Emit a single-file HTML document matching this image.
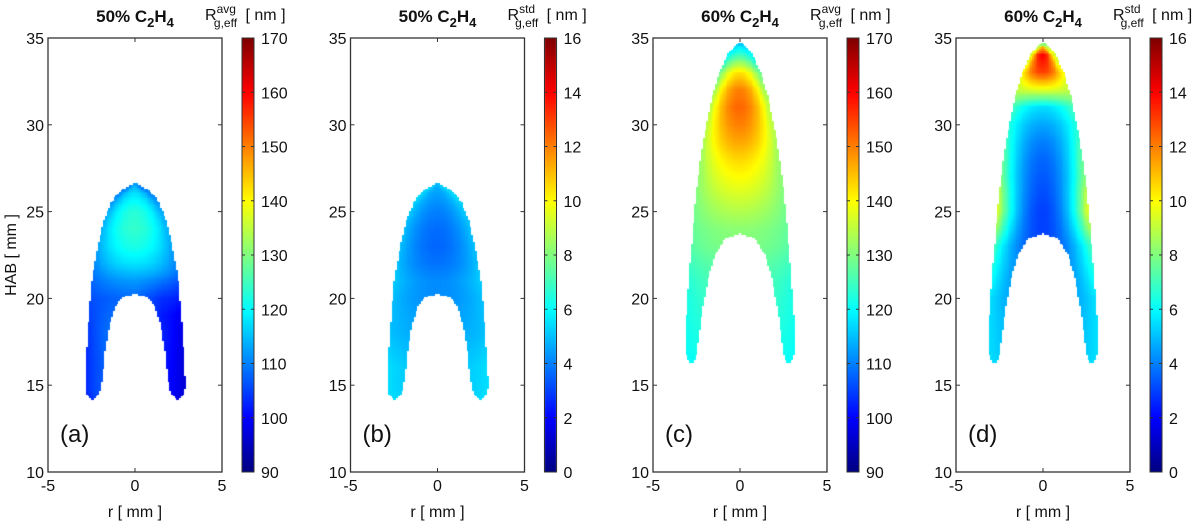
<!DOCTYPE html>
<html><head><meta charset="utf-8">
<style>
body{margin:0;background:#fff;width:1200px;height:528px;overflow:hidden;font-family:"Liberation Sans",Arial,sans-serif}
#c{position:absolute;left:0;top:0}
#s{position:absolute;left:0;top:0}
text{font-family:"Liberation Sans",Arial,sans-serif;fill:#111}
</style></head><body>
<canvas id="c" width="1200" height="528"></canvas>
<svg id="s" width="1200" height="528"></svg>
<script>
// ---- data ----
const panelLabels=["(a)","(b)","(c)","(d)"];
const titles=["50%","50%","60%","60%"];
const cbKinds=["avg","std","avg","std"];
const cbTicksAvg=[90,100,110,120,130,140,150,160,170];
const cbTicksStd=[0,2,4,6,8,10,12,14,16];
const xTicks=[-5,0,5];
const yTicks=[10,15,20,25,30,35];
// shape: outer boundary (HAB -> half-width) and inner boundary
const outerH50=[26.6,26.2,25.5,24.5,23,21,18,15.5,14.8,14.4,14.2];
const outerR50=[0,0.8,1.35,1.75,2.1,2.45,2.7,2.85,2.85,2.7,2.5];
const innerH50=[20.3,20.1,19.5,18.5,17,15.5,14.8,14.4,14.2];
const innerR50=[0,0.8,1.2,1.5,1.75,1.9,2.0,2.2,2.4];
const outerH60=[34.7,34.2,33,31.5,29,26,22,19,17,16.6,16.3];
const outerR60=[0,0.6,1.15,1.6,2.1,2.5,2.85,3.05,3.1,3.0,2.85];
const innerH60=[23.8,23.5,22.5,21,19,17.5,17,16.6,16.3];
const innerR60=[0,0.9,1.5,1.9,2.25,2.45,2.5,2.6,2.75];
// values: center profile & edge profile along HAB
const profH=[14,16,18,20,21,22,23,24,25,26,27,28,29,30,31,32,33,34,35];
const centerA=[110,110,111,108,112,118,122,124,123,118,110,105,105,105,105,105,105,105,105];
const edgeA=[103,103,104,106,108,111,113,114,113,110,106,105,105,105,105,105,105,105,105];
const centerB=[5,5,4.6,4.2,4.2,3.8,3.6,3.7,4,4.5,5,5,5,5,5,5,5,5,5];
const edgeB=[5.5,5.5,5,5,5.2,5,5,5,5.2,5.5,5.5,5.5,5.5,5.5,5.5,5.5,5.5,5.5,5.5];
const centerC=[122,122,124,126,127,128,130,131,134,137,140,143,147,150,152,150,142,125,112];
const edgeC=[120,120,121,122,123,125,127,128,129,130,131,132,133,134,134,132,128,120,112];
const centerD=[4.8,4.8,4.5,4,3.6,3.4,3.1,3.0,3.0,3.2,3.4,3.6,4.0,4.6,5.5,9.5,13,14,8];
const edgeD=[5.5,5.5,5.5,5.5,6,6.5,7,8.5,9.5,9,8,7.5,7,6.5,7,9,10,9,6];

const panels=[
 {x0:48,oh:outerH50,or:outerR50,ih:innerH50,ir:innerR50,c:centerA,e:edgeA,min:90,max:170,ticks:cbTicksAvg},
 {x0:350.5,oh:outerH50,or:outerR50,ih:innerH50,ir:innerR50,c:centerB,e:edgeB,min:0,max:16,ticks:cbTicksStd},
 {x0:653,oh:outerH60,or:outerR60,ih:innerH60,ir:innerR60,c:centerC,e:edgeC,min:90,max:170,ticks:cbTicksAvg},
 {x0:956,oh:outerH60,or:outerR60,ih:innerH60,ir:innerR60,c:centerD,e:edgeD,min:0,max:16,ticks:cbTicksStd}
];
const AW=174,Y0=38,Y1=472;
function jet(t){t=Math.max(0,Math.min(1,t));
 const f=x=>Math.max(0,Math.min(1,x));
 const r=f(Math.min(4*t-1.5,-4*t+4.5)),g=f(Math.min(4*t-0.5,-4*t+3.5)),b=f(Math.min(4*t+0.5,-4*t+2.5));
 return `rgb(${Math.round(r*255)},${Math.round(g*255)},${Math.round(b*255)})`;}
function interpDesc(hs,rs,h){
 if(h>hs[0])return -1; if(h<hs[hs.length-1])return -1;
 for(let i=0;i<hs.length-1;i++){if(h<=hs[i]&&h>=hs[i+1]){const t=(hs[i]-h)/(hs[i]-hs[i+1]);return rs[i]+t*(rs[i+1]-rs[i]);}}return -1;}
function interpAsc(xs,ys,x){if(x<=xs[0])return ys[0];if(x>=xs[xs.length-1])return ys[ys.length-1];
 for(let i=0;i<xs.length-1;i++)if(x>=xs[i]&&x<=xs[i+1])return ys[i]+(x-xs[i])/(xs[i+1]-xs[i])*(ys[i+1]-ys[i]);}
const clamp=v=>Math.max(0,Math.min(1,v));
const ctx=document.getElementById('c').getContext('2d');
const svg=document.getElementById('s');const NS="http://www.w3.org/2000/svg";
function el(tag,attrs,txt){const e=document.createElementNS(NS,tag);for(const k in attrs)e.setAttribute(k,attrs[k]);if(txt!==undefined)e.textContent=txt;svg.appendChild(e);return e;}
panels.forEach((p,pi)=>{
 const xs=r=>p.x0+(r+5)/10*AW, ys=h=>Y0+(35-h)/25*(Y1-Y0);
 const dr=0.1,dh=0.1;
 for(let h=10;h<35;h+=dh){const ro=interpDesc(p.oh,p.or,h+dh/2);if(ro<0)continue;
  const ri=interpDesc(p.ih,p.ir,h+dh/2);
  for(let r=-5;r<5;r+=dr){const rc=Math.abs(r+dr/2);if(rc>ro)continue;if(ri>=0&&rc<ri)continue;
   const cv=interpAsc(profH,p.c,h),ev=interpAsc(profH,p.e,h);
   const w=Math.pow(rc/ro,2);let v=cv+(ev-cv)*w;
   if(pi===0)v-=6*clamp((21.5-h)/2.5)*clamp(r/1.5);
   ctx.fillStyle=jet((v-p.min)/(p.max-p.min));
   ctx.fillRect(Math.floor(xs(r)),Math.floor(ys(h+dh)),Math.ceil(dr/10*AW)+1,Math.ceil(dh/25*(Y1-Y0))+1);}}
 const cx=p.x0+194,cw=12;
 for(let y=Y0;y<Y1;y++){ctx.fillStyle=jet((Y1-y)/(Y1-Y0));ctx.fillRect(cx,y,cw,1);}
 const ax=el('rect',{x:p.x0,y:Y0,width:AW,height:Y1-Y0,fill:'none',stroke:'#333','stroke-width':1.3});
 
 xTicks.forEach(t=>{const x=xs(t);el('line',{x1:x,x2:x,y1:Y1,y2:Y1-4,stroke:'#333'});el('line',{x1:x,x2:x,y1:Y0,y2:Y0+4,stroke:'#333'});
  const tt=el('text',{x:x,y:Y1+19,'font-size':16,'text-anchor':'middle'},String(t));});
 yTicks.forEach(t=>{const y=ys(t);el('line',{x1:p.x0,x2:p.x0+4,y1:y,y2:y,stroke:'#333'});el('line',{x1:p.x0+AW,x2:p.x0+AW-4,y1:y,y2:y,stroke:'#333'});
  const tt=el('text',{x:p.x0-4,y:y+6,'font-size':16,'text-anchor':'end'},String(t));});
 const xl=el('text',{x:p.x0+AW/2,y:Y1+45,'font-size':16,'text-anchor':'middle','xml:space':'preserve'},'r  [ mm ]');
 
 const pl=el('text',{x:p.x0+12,y:Y1-30,'font-size':24},panelLabels[pi]);
 
 const ti=el('text',{x:p.x0+AW/2,y:22,'font-size':17,'font-weight':'bold','text-anchor':'middle'});
 ti.innerHTML=titles[pi]+' C<tspan dy="5" font-size="13">2</tspan><tspan dy="-5">H</tspan><tspan dy="5" font-size="13">4</tspan>';
 
 const cl=el('text',{x:cx-37,y:20,'font-size':16});
 cl.innerHTML='R<tspan dy="-7" font-size="12">'+cbKinds[pi]+'</tspan><tspan dx="-'+(cbKinds[pi]==='avg'?22:20)+'" dy="14" font-size="12">g,eff</tspan><tspan dx="4" dy="-7"> [ nm ]</tspan>';
 
 el('rect',{x:cx,y:Y0,width:cw,height:Y1-Y0,fill:'none',stroke:'#333'});
 p.ticks.forEach(t=>{const y=Y1-(t-p.min)/(p.max-p.min)*(Y1-Y0);
  el('line',{x1:cx,x2:cx+3,y1:y,y2:y,stroke:'#333'});el('line',{x1:cx+cw,x2:cx+cw-3,y1:y,y2:y,stroke:'#333'});
  const tt=el('text',{x:cx+cw+7,y:y+6,'font-size':16},String(t));});
});
const yl=el('text',{x:16,y:255,'font-size':16,'text-anchor':'middle',transform:'rotate(-90 16 255)','xml:space':'preserve'},'HAB  [ mm ]');

</script>
</body></html>
